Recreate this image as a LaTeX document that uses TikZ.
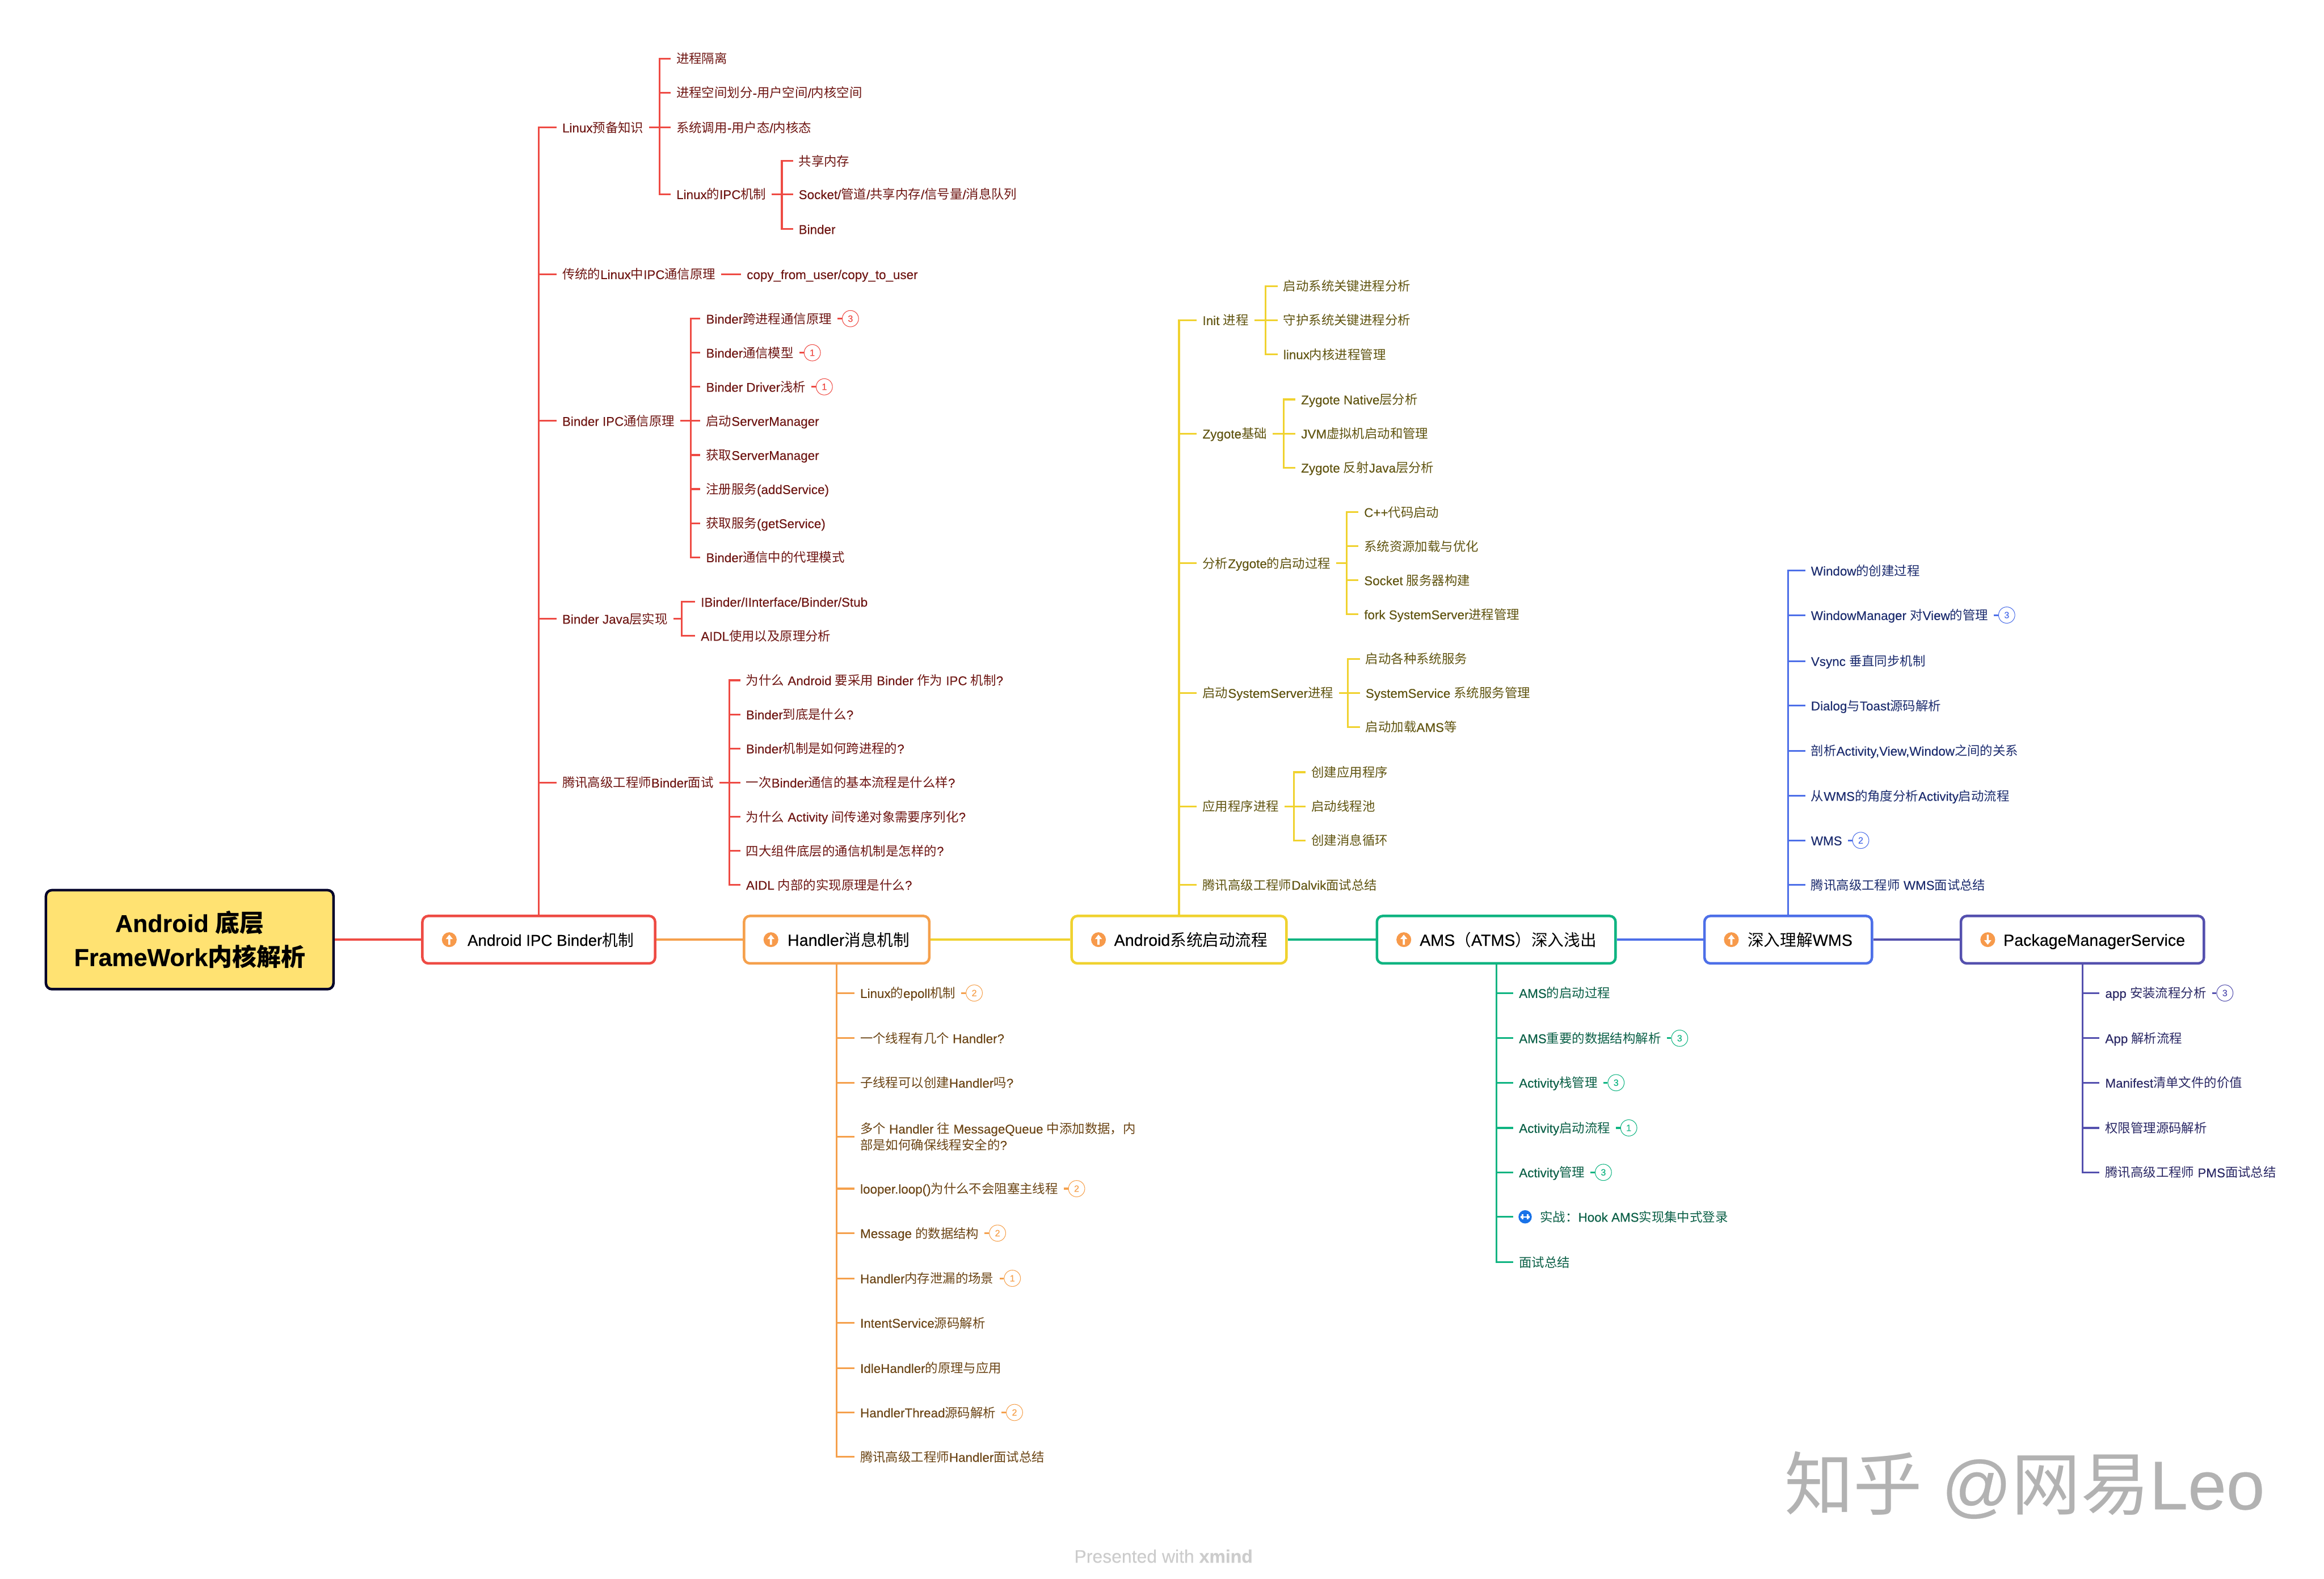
\documentclass[tikz,border=0pt]{standalone}
\usepackage{fontspec}
\usetikzlibrary{positioning}
\setmainfont{Liberation Sans}[FakeBold=0.25]
\newfontfamily\latinfont{Liberation Sans}[FakeBold=0.25]
\newfontfamily\cjkfont{Noto Sans CJK SC}
% switch to the CJK face for ideographs and full width punctuation
\newXeTeXintercharclass\cjkclass
\makeatletter
\count@="4E00
\loop\XeTeXcharclass\count@=\cjkclass\ifnum\count@<"9FFF\advance\count@ by 1\repeat
\count@="FF00
\loop\XeTeXcharclass\count@=\cjkclass\ifnum\count@<"FF60\advance\count@ by 1\repeat
\makeatother
\XeTeXinterchartoks 0 \cjkclass={\cjkfont}
\XeTeXinterchartoks 4095 \cjkclass={\cjkfont}
\XeTeXinterchartoks \cjkclass 0={\latinfont}
\XeTeXinterchartoks \cjkclass 4095={\latinfont}
\XeTeXinterchartokenstate=1
\definecolor{tred}{HTML}{EE4B44}
\definecolor{torange}{HTML}{F5A04C}
\definecolor{tyellow}{HTML}{F0D22F}
\definecolor{tgreen}{HTML}{0FB481}
\definecolor{tblue}{HTML}{4D6FE8}
\definecolor{tindigo}{HTML}{5450AE}
\definecolor{dred}{HTML}{6E1512}
\definecolor{dorange}{HTML}{6B4414}
\definecolor{dyellow}{HTML}{605410}
\definecolor{dgreen}{HTML}{0A5F46}
\definecolor{dblue}{HTML}{1B2B6E}
\definecolor{dindigo}{HTML}{2A2865}
\definecolor{rootfill}{HTML}{FFE272}
\definecolor{rootline}{HTML}{000029}
\definecolor{markorange}{HTML}{F79A4B}
\definecolor{markblue}{HTML}{1A73E8}
\tikzset{
  leaf/.style={anchor=west,inner xsep=.9mm,inner ysep=.3mm,align=left,text=#1,
    text height=1.9mm,text depth=.24mm,font=\fontsize{6.1}{7.8}\selectfont},
  link/.style={draw=#1,line width=.3mm},
  mainlink/.style={draw=#1,line width=.43mm},
  badge/.style={circle,draw=#1,text=#1,line width=.1mm,minimum size=2.75mm,inner sep=0pt,
    font=\fontsize{4.4}{5}\selectfont},
  topic/.style={draw=#1,fill=white,line width=.43mm,rounded corners=1mm,minimum height=8mm,
    text height=2.41mm,text depth=.33mm,font=\fontsize{7.8}{10}\selectfont},
  upmark/.pic={
    \fill[markorange] (0,0) circle (5);
    \fill[white] (-.7,3.4) -- (.7,3.4) -- (.7,-.4) -- (2.4,-.4) -- (0,-3.4) -- (-2.4,-.4) -- (-.7,-.4) -- cycle;
  },
  swapmark/.pic={
    \fill[markblue] (0,0) circle (4.5);
    \fill[white] (-2.5,-.4) rectangle (2.5,.4);
    \fill[white] (-2.2,-1.6) rectangle (-1,1.6);
    \fill[white] (1,-1.6) rectangle (2.2,1.6);
    \fill[white] (-3.2,-.8) rectangle (-2.2,.8);
    \fill[white] (2.2,-.8) rectangle (3.2,.8);
  }
}
\begin{document}
\begin{tikzpicture}[x=.25mm,y=-.25mm]
  \useasboundingbox (0,0) rectangle (1568,1065.3);
  % the root and the row of main topics
  \draw (128,634) node[draw=rootline,fill=rootfill,line width=.43mm,rounded corners=1mm,
    minimum width=48.5mm,minimum height=16.7mm,align=center,
    font=\fontsize{11.7}{16.3}\selectfont\bfseries] (root) {Android 底层\\FrameWork内核解析};
  \draw (363.5,634) node[topic=tred,minimum width=39.25mm] (ipc) {\hspace{4mm}\fontsize{7.55}{10}\selectfont Android IPC Binder机制};
  \draw (564.5,634) node[topic=torange,minimum width=31.25mm] (handler) {\hspace{4mm}Handler消息机制};
  \draw (795.5,634) node[topic=tyellow,minimum width=36.25mm] (boot) {\hspace{4mm}Android系统启动流程};
  \draw (1009.5,634) node[topic=tgreen,minimum width=40.25mm] (ams) {\hspace{4mm}AMS（ATMS）深入浅出};
  \draw (1206.5,634) node[topic=tblue,minimum width=28.25mm] (wms) {\hspace{4mm}深入理解WMS};
  \draw (1405,634) node[topic=tindigo,minimum width=41mm] (pms) {\hspace{4mm}PackageManagerService};
  \draw[mainlink=tred] (root) -- (ipc);
  \draw[mainlink=torange] (ipc) -- (handler);
  \draw[mainlink=tyellow] (handler) -- (boot);
  \draw[mainlink=tgreen] (boot) -- (ams);
  \draw[mainlink=tblue] (ams) -- (wms);
  \draw[mainlink=tindigo] (wms) -- (pms);
  \pic at ([xshift=4.75mm]ipc.west) {upmark};
  \pic at ([xshift=4.75mm]handler.west) {upmark};
  \pic at ([xshift=4.75mm]boot.west) {upmark};
  \pic at ([xshift=4.75mm]ams.west) {upmark};
  \pic at ([xshift=4.75mm]wms.west) {upmark};
  \pic[yscale=-1] at ([xshift=4.75mm]pms.west) {upmark};

  % the binder branch
  \draw (375.5,86) node[leaf=dred] (linux) {Linux预备知识};
  \draw (375.5,185) node[leaf=dred] (classic) {传统的Linux中IPC通信原理};
  \draw (375.5,284) node[leaf=dred] (binder-ipc) {Binder IPC通信原理};
  \draw (375.5,417.5) node[leaf=dred] (binder-java) {Binder Java层实现};
  \draw (375.5,528) node[leaf=dred] (binder-faq) {腾讯高级工程师Binder面试};
  \foreach \n in {linux,classic,binder-ipc,binder-java,binder-faq}
    \draw[link=tred] (ipc.north) |- (\n.west);
  % linux basics
  \draw (452.5,39.5) node[leaf=dred] (isolate) {进程隔离};
  \draw (452.5,62.5) node[leaf=dred] (space) {进程空间划分-用户空间/内核空间};
  \draw (452.5,86) node[leaf=dred] (syscall) {系统调用-用户态/内核态};
  \draw (452.5,131) node[leaf=dred] (linux-ipc) {Linux的IPC机制};
  \coordinate (linux-fork) at (445,86);
  \draw[link=tred] (linux.east) -- (syscall.west);
  \foreach \n in {isolate,space,linux-ipc}
    \draw[link=tred] (linux-fork) |- (\n.west);
  \draw (535,108.5) node[leaf=dred] (shm) {共享内存};
  \draw (535,131) node[leaf=dred] (socket) {Socket/管道/共享内存/信号量/消息队列};
  \draw (535,154.5) node[leaf=dred] (binder-leaf) {Binder};
  \coordinate (ipc-fork) at (527.5,131);
  \draw[link=tred] (linux-ipc.east) -- (socket.west);
  \draw[link=tred] (ipc-fork) |- (shm.west);
  \draw[link=tred] (ipc-fork) |- (binder-leaf.west);
  \draw (500,185) node[leaf=dred] (copy) {copy\_from\_user/copy\_to\_user};
  \draw[link=tred] (classic.east) -- (copy.west);
  % binder ipc
  \draw (472.5,215) node[leaf=dred] (cross) {Binder跨进程通信原理};
  \draw (472.5,238) node[leaf=dred] (model) {Binder通信模型};
  \draw (472.5,261) node[leaf=dred] (driver) {Binder Driver浅析};
  \draw (472.5,284) node[leaf=dred] (start-sm) {启动ServerManager};
  \draw (472.5,307) node[leaf=dred] (get-sm) {获取ServerManager};
  \draw (472.5,330) node[leaf=dred] (add) {注册服务(addService)};
  \draw (472.5,353) node[leaf=dred] (get) {获取服务(getService)};
  \draw (472.5,376) node[leaf=dred] (proxy) {Binder通信中的代理模式};
  \coordinate (binder-fork) at (466,284);
  \draw[link=tred] (binder-ipc.east) -- (start-sm.west);
  \foreach \n in {cross,model,driver,get-sm,add,get,proxy}
    \draw[link=tred] (binder-fork) |- (\n.west);
  \node[badge=tred,right=.75mm of cross] (cross-n) {3};
  \node[badge=tred,right=.75mm of model] (model-n) {1};
  \node[badge=tred,right=.75mm of driver] (driver-n) {1};
  \draw[link=tred] (cross.east) -- (cross-n);
  \draw[link=tred] (model.east) -- (model-n);
  \draw[link=tred] (driver.east) -- (driver-n);
  % binder java
  \draw (469,406) node[leaf=dred] (stub) {IBinder/IInterface/Binder/Stub};
  \draw (469,429) node[leaf=dred] (aidl) {AIDL使用以及原理分析};
  \coordinate (java-fork) at (460,417.5);
  \draw[link=tred] (binder-java.east) -- (java-fork);
  \draw[link=tred] (java-fork) |- (stub.west);
  \draw[link=tred] (java-fork) |- (aidl.west);
  % binder questions
  \draw (499.5,459) node[leaf=dred] (q1) {为什么 Android 要采用 Binder 作为 IPC 机制?};
  \draw (499.5,482) node[leaf=dred] (q2) {Binder到底是什么?};
  \draw (499.5,505) node[leaf=dred] (q3) {Binder机制是如何跨进程的?};
  \draw (499.5,528) node[leaf=dred] (q4) {一次Binder通信的基本流程是什么样?};
  \draw (499.5,551) node[leaf=dred] (q5) {为什么 Activity 间传递对象需要序列化?};
  \draw (499.5,574) node[leaf=dred] (q6) {四大组件底层的通信机制是怎样的?};
  \draw (499.5,597) node[leaf=dred] (q7) {AIDL 内部的实现原理是什么?};
  \coordinate (faq-fork) at (492,528);
  \draw[link=tred] (binder-faq.east) -- (q4.west);
  \foreach \n in {q1,q2,q3,q5,q6,q7}
    \draw[link=tred] (faq-fork) |- (\n.west);

  % the handler branch
  \draw (576.5,670) node[leaf=dorange] (epoll) {Linux的epoll机制};
  \draw (576.5,700.5) node[leaf=dorange] (count) {一个线程有几个 Handler?};
  \draw (576.5,730.5) node[leaf=dorange] (child) {子线程可以创建Handler吗?};
  \draw (576.5,767) node[leaf=dorange,text height=,text depth=] (queue) {多个 Handler 往 MessageQueue 中添加数据，内\\部是如何确保线程安全的?};
  \draw (576.5,802) node[leaf=dorange] (looper) {looper.loop()为什么不会阻塞主线程};
  \draw (576.5,832) node[leaf=dorange] (message) {Message 的数据结构};
  \draw (576.5,862.5) node[leaf=dorange] (leak) {Handler内存泄漏的场景};
  \draw (576.5,892.5) node[leaf=dorange] (intent) {IntentService源码解析};
  \draw (576.5,923) node[leaf=dorange] (idle) {IdleHandler的原理与应用};
  \draw (576.5,953) node[leaf=dorange] (thread) {HandlerThread源码解析};
  \draw (576.5,983) node[leaf=dorange] (handler-faq) {腾讯高级工程师Handler面试总结};
  \foreach \n in {epoll,count,child,queue,looper,message,leak,intent,idle,thread,handler-faq}
    \draw[link=torange] (handler.south) |- (\n.west);
  \foreach \n/\m in {epoll/2,looper/2,message/2,leak/1,thread/2}{
    \node[badge=torange,right=.75mm of \n] (\n-n) {\m};
    \draw[link=torange] (\n.east) -- (\n-n);
  }

  % the boot branch
  \draw (807.5,216) node[leaf=dyellow] (init) {Init 进程};
  \draw (807.5,292.5) node[leaf=dyellow] (zygote) {Zygote基础};
  \draw (807.5,380) node[leaf=dyellow] (analyse) {分析Zygote的启动过程};
  \draw (807.5,467.5) node[leaf=dyellow] (server) {启动SystemServer进程};
  \draw (807.5,544) node[leaf=dyellow] (app) {应用程序进程};
  \draw (807.5,597) node[leaf=dyellow] (dalvik) {腾讯高级工程师Dalvik面试总结};
  \foreach \n in {init,zygote,analyse,server,app,dalvik}
    \draw[link=tyellow] (boot.north) |- (\n.west);
  % init
  \draw (862,193) node[leaf=dyellow] (init-a) {启动系统关键进程分析};
  \draw (862,216) node[leaf=dyellow] (init-b) {守护系统关键进程分析};
  \draw (862,239) node[leaf=dyellow] (init-c) {linux内核进程管理};
  \coordinate (init-fork) at (854,216);
  \draw[link=tyellow] (init.east) -- (init-b.west);
  \draw[link=tyellow] (init-fork) |- (init-a.west);
  \draw[link=tyellow] (init-fork) |- (init-c.west);
  % zygote
  \draw (874,269.5) node[leaf=dyellow] (zyg-a) {Zygote Native层分析};
  \draw (874,292.5) node[leaf=dyellow] (zyg-b) {JVM虚拟机启动和管理};
  \draw (874,315.5) node[leaf=dyellow] (zyg-c) {Zygote 反射Java层分析};
  \coordinate (zyg-fork) at (866,292.5);
  \draw[link=tyellow] (zygote.east) -- (zyg-b.west);
  \draw[link=tyellow] (zyg-fork) |- (zyg-a.west);
  \draw[link=tyellow] (zyg-fork) |- (zyg-c.west);
  % zygote startup
  \draw (916.5,345.5) node[leaf=dyellow] (ana-a) {C++代码启动};
  \draw (916.5,368.5) node[leaf=dyellow] (ana-b) {系统资源加载与优化};
  \draw (916.5,391.5) node[leaf=dyellow] (ana-c) {Socket 服务器构建};
  \draw (916.5,414.5) node[leaf=dyellow] (ana-d) {fork SystemServer进程管理};
  \coordinate (ana-fork) at (908.5,380);
  \draw[link=tyellow] (analyse.east) -- (ana-fork);
  \foreach \n in {ana-a,ana-b,ana-c,ana-d}
    \draw[link=tyellow] (ana-fork) |- (\n.west);
  % system server
  \draw (917.5,444.5) node[leaf=dyellow] (srv-a) {启动各种系统服务};
  \draw (917.5,467.5) node[leaf=dyellow] (srv-b) {SystemService 系统服务管理};
  \draw (917.5,490.5) node[leaf=dyellow] (srv-c) {启动加载AMS等};
  \coordinate (srv-fork) at (909.5,467.5);
  \draw[link=tyellow] (server.east) -- (srv-b.west);
  \draw[link=tyellow] (srv-fork) |- (srv-a.west);
  \draw[link=tyellow] (srv-fork) |- (srv-c.west);
  % app process
  \draw (881,521) node[leaf=dyellow] (app-a) {创建应用程序};
  \draw (881,544) node[leaf=dyellow] (app-b) {启动线程池};
  \draw (881,567) node[leaf=dyellow] (app-c) {创建消息循环};
  \coordinate (app-fork) at (873,544);
  \draw[link=tyellow] (app.east) -- (app-b.west);
  \draw[link=tyellow] (app-fork) |- (app-a.west);
  \draw[link=tyellow] (app-fork) |- (app-c.west);

  % the ams branch
  \draw (1021,670) node[leaf=dgreen] (ams-start) {AMS的启动过程};
  \draw (1021,700.5) node[leaf=dgreen] (ams-data) {AMS重要的数据结构解析};
  \draw (1021,730.5) node[leaf=dgreen] (stack) {Activity栈管理};
  \draw (1021,761) node[leaf=dgreen] (flow) {Activity启动流程};
  \draw (1021,791) node[leaf=dgreen] (manage) {Activity管理};
  \draw (1021,821) node[leaf=dgreen] (hook) {\hspace{3.55mm}实战：Hook AMS实现集中式登录};
  \draw (1021,851.5) node[leaf=dgreen] (ams-faq) {面试总结};
  \foreach \n in {ams-start,ams-data,stack,flow,manage,hook,ams-faq}
    \draw[link=tgreen] (ams.south) |- (\n.west);
  \foreach \n/\m in {ams-data/3,stack/3,flow/1,manage/3}{
    \node[badge=tgreen,right=.75mm of \n] (\n-n) {\m};
    \draw[link=tgreen] (\n.east) -- (\n-n);
  }
  \pic at ([xshift=2mm]hook.west) {swapmark};

  % the wms branch
  \draw (1218,385) node[leaf=dblue] (win-a) {Window的创建过程};
  \draw (1218,415) node[leaf=dblue] (win-b) {WindowManager 对View的管理};
  \draw (1218,446) node[leaf=dblue] (win-c) {Vsync  垂直同步机制};
  \draw (1218,476) node[leaf=dblue] (win-d) {Dialog与Toast源码解析};
  \draw (1218,506.5) node[leaf=dblue] (win-e) {剖析Activity,View,Window之间的关系};
  \draw (1218,537) node[leaf=dblue] (win-f) {从WMS的角度分析Activity启动流程};
  \draw (1218,567) node[leaf=dblue] (win-g) {WMS};
  \draw (1218,597) node[leaf=dblue] (win-h) {腾讯高级工程师 WMS面试总结};
  \foreach \n in {win-a,win-b,win-c,win-d,win-e,win-f,win-g,win-h}
    \draw[link=tblue] (wms.north) |- (\n.west);
  \foreach \n/\m in {win-b/3,win-g/2}{
    \node[badge=tblue,right=.75mm of \n] (\n-n) {\m};
    \draw[link=tblue] (\n.east) -- (\n-n);
  }

  % the pms branch
  \draw (1416.5,670) node[leaf=dindigo] (pkg-a) {app 安装流程分析};
  \draw (1416.5,700.5) node[leaf=dindigo] (pkg-b) {App 解析流程};
  \draw (1416.5,730.5) node[leaf=dindigo] (pkg-c) {Manifest清单文件的价值};
  \draw (1416.5,761) node[leaf=dindigo] (pkg-d) {权限管理源码解析};
  \draw (1416.5,791) node[leaf=dindigo] (pkg-e) {腾讯高级工程师 PMS面试总结};
  \foreach \n in {pkg-a,pkg-b,pkg-c,pkg-d,pkg-e}
    \draw[link=tindigo] (pms.south) |- (\n.west);
  \node[badge=tindigo,right=.75mm of pkg-a] (pkg-a-n) {3};
  \draw[link=tindigo] (pkg-a.east) -- (pkg-a-n);

  % watermark and footer
  \draw (1366,1002) node[text=black!30,font=\fontsize{33.1}{36}\selectfont] (mark) {知乎 @网易Leo};
  \draw (785,1050) node[text=black!20,font=\fontsize{8.7}{10}\selectfont] (footer) {Presented with \textbf{xmind}};
\end{tikzpicture}
\end{document}
